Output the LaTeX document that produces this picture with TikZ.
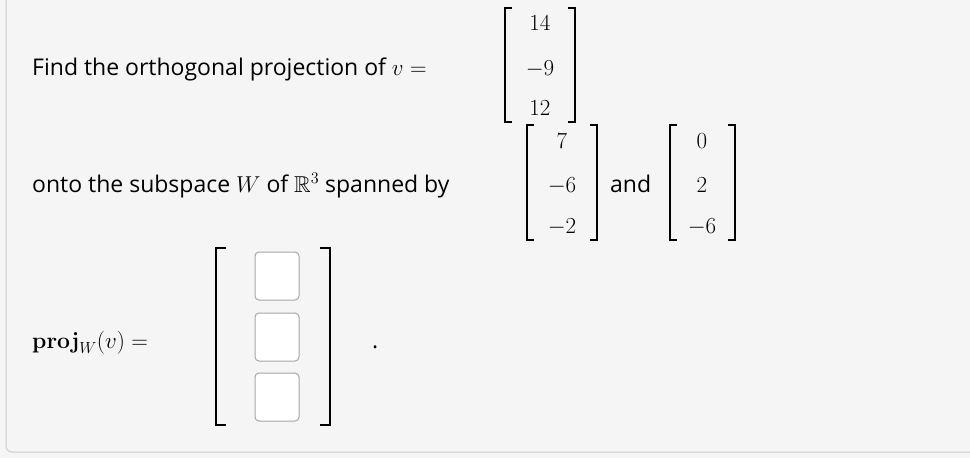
\documentclass[tikz,border=0pt]{standalone}
\usepackage{fix-cm}
\usepackage{amsmath,amssymb}
\usepackage[no-math]{fontspec}
\setmainfont{Open Sans}
\begin{document}
\begin{tikzpicture}[x=1pt,y=-1pt,
  txt/.style={anchor=base west,font=\fontsize{23}{27}\selectfont,inner sep=0},
  ent/.style={anchor=base,font=\fontsize{23}{27}\selectfont,inner sep=0},
  brk/.style={line width=1.3pt},
  ansbox/.style={draw=gray!70,rounded corners=4pt,line width=1pt,minimum width=44pt,minimum height=48pt,fill=white}]
\useasboundingbox[fill={rgb,255:red,245;green,245;blue,245}] (0,0) rectangle (970,458);
\draw[gray!40,line width=1pt,rounded corners=6pt] (6,-5) -- (6,452) -- (975,452);
% line 1
\node[txt] (l1) at (32,75) {Find the orthogonal projection of $v=$};
\draw[brk] (512,8) -- (505,8) -- (505,122) -- (512,122);
\draw[brk] (568,8) -- (575,8) -- (575,122) -- (568,122);
\node[ent] (a1) at (540,30) {$14$};
\node[ent] (a2) at (540,75) {$-9$};
\node[ent] (a3) at (540,115) {$12$};
% line 2
\node[txt] (l2) at (32,192) {onto the subspace $W$ of $\mathbb{R}^3$ spanned by};
\draw[brk] (534,125) -- (527,125) -- (527,240) -- (534,240);
\draw[brk] (590,125) -- (597,125) -- (597,240) -- (590,240);
\node[ent] (b1) at (562,148) {$7$};
\node[ent] (b2) at (562,192) {$-6$};
\node[ent] (b3) at (562,233) {$-2$};
\node[txt] (and) at (610,192) {and};
\draw[brk] (677,125) -- (670,125) -- (670,240) -- (677,240);
\draw[brk] (728,125) -- (735,125) -- (735,240) -- (728,240);
\node[ent] (c1) at (702,148) {$0$};
\node[ent] (c2) at (702,192) {$2$};
\node[ent] (c3) at (702,233) {$-6$};
% answer
\node[txt] (pr) at (32,348) {$\mathbf{proj}_W(v)=$};
\draw[brk] (226,248) -- (216,248) -- (216,425) -- (226,425);
\draw[brk] (320,248) -- (330,248) -- (330,425) -- (320,425);
\node[ansbox] (x1) at (277,276) {};
\node[ansbox] (x2) at (277,337) {};
\node[ansbox] (x3) at (277,397) {};
\node[txt] (dot) at (372,348) {.};
\end{tikzpicture}
\end{document}
